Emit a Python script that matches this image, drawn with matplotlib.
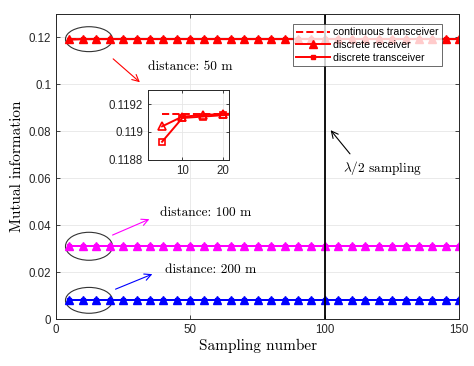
import matplotlib
matplotlib.use("Agg")
import matplotlib.pyplot as plt
from matplotlib.patches import Ellipse

plt.rcParams['mathtext.fontset'] = 'cm'
plt.rcParams['font.family'] = ['Liberation Sans', 'DejaVu Sans']

# ---------------- data ----------------
sampling = [5, 10, 15, 20, 25, 30, 35, 40, 45, 50, 55, 60, 65, 70, 75,
            80, 85, 90, 95, 100, 105, 110, 115, 120, 125, 130, 135, 140, 145, 150]

cont_50 = [0.11913] * 30
recv_50 = [0.11904, 0.11911, 0.11912, 0.11913] + [0.11913] * 26
trx_50 = [0.11893, 0.11910, 0.11911, 0.11912] + [0.11913] * 26

cont_100 = [0.0310] * 30
recv_100 = [0.0310] * 30
trx_100 = [0.0310] * 30

cont_200 = [0.0080] * 30
recv_200 = [0.0080] * 30
trx_200 = [0.0080] * 30

series = [
    ('red', cont_50, recv_50, trx_50),
    ('magenta', cont_100, recv_100, trx_100),
    ('blue', cont_200, recv_200, trx_200),
]

legend_labels = ['continuous transceiver', 'discrete receiver', 'discrete transceiver']
xticks = [0, 50, 100, 150]
yticks = [0, 0.02, 0.04, 0.06, 0.08, 0.1, 0.12]
inset_xticks = [10, 20]
inset_yticks = [0.1188, 0.119, 0.1192]

# ---------------- figure ----------------
fig = plt.figure(figsize=(4.74, 3.66), dpi=100)
ax = fig.add_axes([0.118, 0.128, 0.851, 0.835])

lw = 1.4
handles = None
for color, cont, recv, trx in series:
    h1, = ax.plot(sampling, cont, '--', color=color, lw=lw)
    h3, = ax.plot(sampling, trx, '-', color=color, lw=lw, marker='s', ms=3.5,
                  mfc=color, mec=color)
    h2, = ax.plot(sampling, recv, '-', color=color, lw=lw, marker='^', ms=5.5,
                  mfc=color, mec=color)
    if handles is None:
        handles = [h1, h2, h3]

ax.axvline(100, color='black', lw=1.3)

ax.set_xlim(0, 150)
ax.set_ylim(0, 0.13)
ax.set_xticks(xticks)
ax.set_yticks(yticks)
ax.set_xticklabels([str(t) for t in xticks])
ax.set_yticklabels(['0', '0.02', '0.04', '0.06', '0.08', '0.1', '0.12'])
ax.tick_params(direction='in', top=True, right=True, labelsize=8.3,
               colors='#262626', length=3, width=0.6)
ax.grid(True, color='#e6e6e6', lw=0.6)
ax.set_axisbelow(True)
for s in ax.spines.values():
    s.set_color('#262626')
    s.set_linewidth(0.7)

ax.set_xlabel('Sampling number', family='cmr10', fontsize=11, labelpad=2)
ax.set_ylabel('Mutual information', family='cmr10', fontsize=11, labelpad=3)

leg = ax.legend(handles, legend_labels, loc='upper right',
                bbox_to_anchor=(0.962, 0.972), fontsize=7.6, frameon=True,
                fancybox=False, edgecolor='#262626', handlelength=3.2,
                borderpad=0.3, labelspacing=0.25, handletextpad=0.3,
                borderaxespad=0.2)
leg.get_frame().set_linewidth(0.6)

# ellipses
for cy, h in [(0.1191, 0.0106), (0.0310, 0.0119), (0.0080, 0.0110)]:
    ax.add_patch(Ellipse((12.3, cy), 17.5, h, fill=False, ec='#333333', lw=0.8))

# annotations
fs = 9.6
ax.annotate('', xy=(32, 0.100), xytext=(20.5, 0.1115),
            arrowprops=dict(arrowstyle='->', color='red', lw=0.8,
                            mutation_scale=12))
ax.text(34.2, 0.1072, 'distance: 50 m', family='cmr10', fontsize=fs, va='center')

ax.annotate('', xy=(35.7, 0.043), xytext=(20.1, 0.0353),
            arrowprops=dict(arrowstyle='->', color='magenta', lw=0.8,
                            mutation_scale=12))
ax.text(38.7, 0.0451, 'distance: 100 m', family='cmr10', fontsize=fs, va='center')

ax.annotate('', xy=(36.8, 0.0196), xytext=(21.2, 0.0123),
            arrowprops=dict(arrowstyle='->', color='blue', lw=0.8,
                            mutation_scale=12))
ax.text(40.5, 0.0209, 'distance: 200 m', family='cmr10', fontsize=fs, va='center')

ax.annotate('', xy=(101.5, 0.0813), xytext=(110, 0.0694),
            arrowprops=dict(arrowstyle='->', color='black', lw=0.8,
                            mutation_scale=12))
ax.text(106.7, 0.0643, r'$\lambda/2$ sampling', family='cmr10', fontsize=fs,
        va='center')

# ---------------- inset ----------------
axi = fig.add_axes([0.312, 0.563, 0.171, 0.191])
color, cont, recv, trx = series[0]
axi.plot(sampling, cont, '--', color=color, lw=lw)
axi.plot(sampling, trx, '-', color=color, lw=lw, marker='s', ms=4,
         mfc='none', mec=color, mew=1.2)
axi.plot(sampling, recv, '-', color=color, lw=lw, marker='^', ms=5.5,
         mfc='none', mec=color, mew=1.2)
axi.set_xlim(1.5, 21.5)
axi.set_ylim(0.1188, 0.1193)
axi.set_xticks(inset_xticks)
axi.set_yticks(inset_yticks)
axi.set_xticklabels(['10', '20'])
axi.set_yticklabels(['0.1188', '0.119', '0.1192'])
axi.tick_params(direction='in', top=True, right=True, labelsize=8.3,
                colors='#262626', length=2.5, width=0.6)
axi.grid(True, color='#e6e6e6', lw=0.6)
axi.set_axisbelow(True)
for s in axi.spines.values():
    s.set_color('#262626')
    s.set_linewidth(0.7)

fig.savefig('out.png', dpi=100)
